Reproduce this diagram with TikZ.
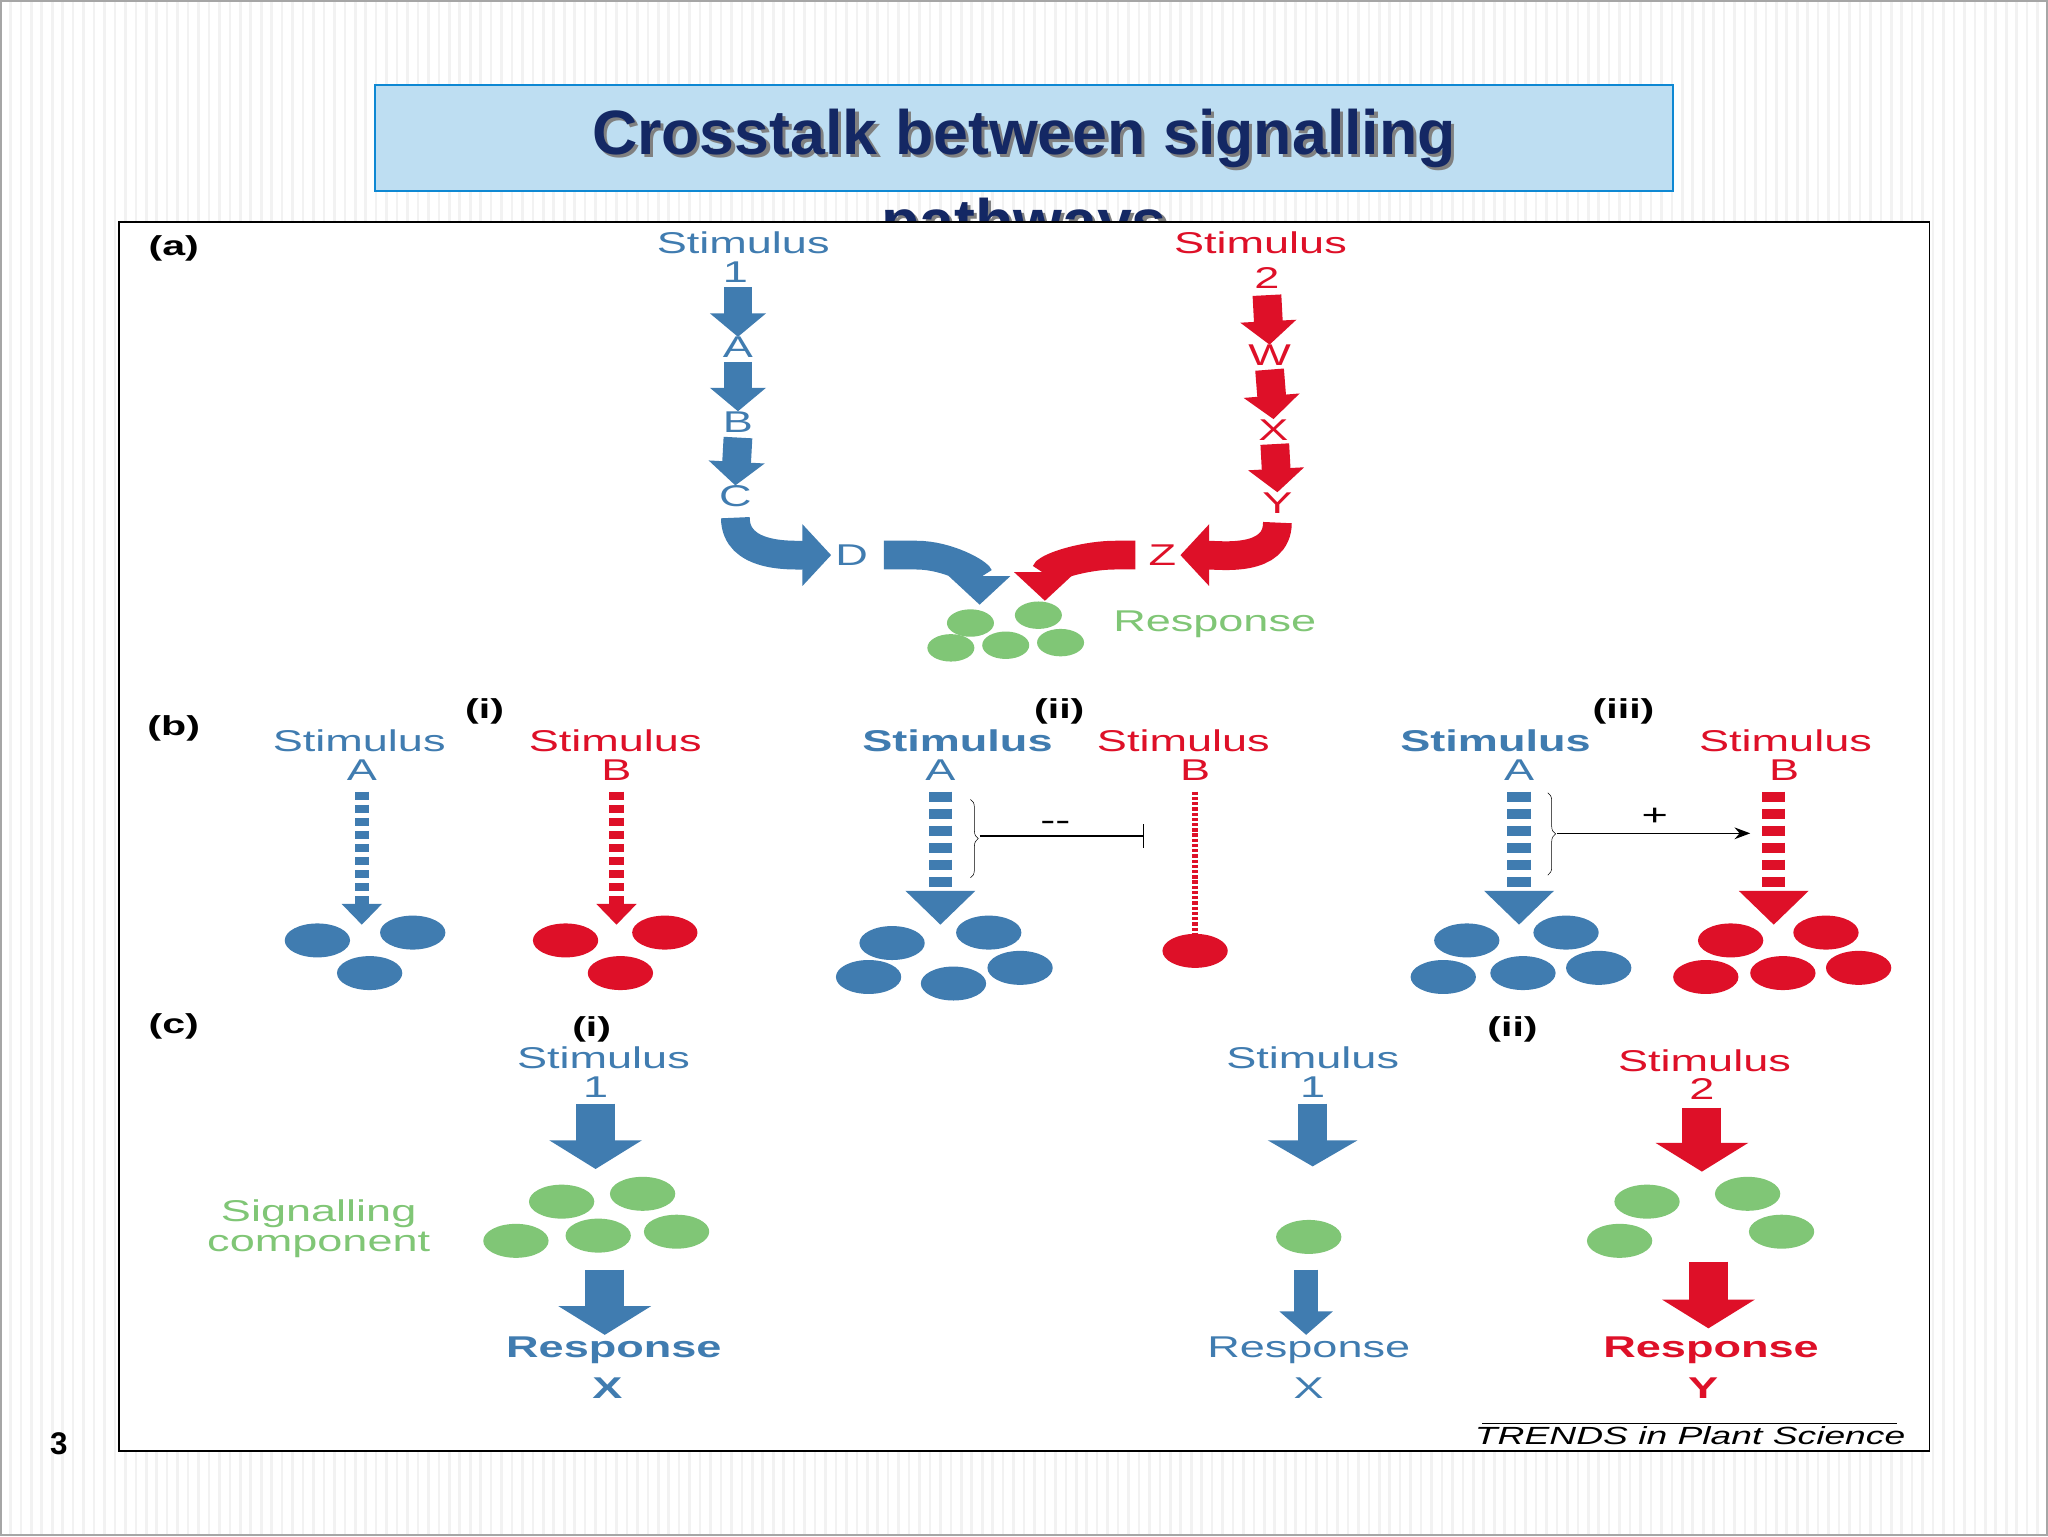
\documentclass[tikz,border=0pt]{standalone}
\usepackage{fontspec}
\setmainfont{Liberation Sans}
\newfontfamily\wide[FakeStretch=1.5]{Liberation Sans}
\usetikzlibrary{arrows.meta,decorations.pathreplacing,shapes.geometric}
\definecolor{cb}{RGB}{64,124,176}
\definecolor{cr}{RGB}{222,16,40}
\definecolor{cg}{RGB}{128,198,118}
\definecolor{navy}{RGB}{20,40,100}
\tikzset{
 lbl/.style={font=\wide\fontsize{23}{23}\selectfont,inner sep=0pt},
 lblb/.style={font=\wide\bfseries\fontsize{23}{23}\selectfont,inner sep=0pt},
 bl/.style={lbl,text=cb}, rl/.style={lbl,text=cr}, gl/.style={lbl,text=cg},
 fat/.style={line width=22pt,-{Triangle[width=42pt,length=18pt]}},
 fatc/.style={line width=22pt,-{Triangle[width=46pt,length=22pt]}},
 dsh/.style={line width=11pt,dash pattern=on 6pt off 4pt,-{Triangle[width=30pt,length=16pt]}},
 blob/.style={ellipse,minimum width=50pt,minimum height=26pt,inner sep=0pt},
 plab/.style={font=\wide\bfseries\fontsize{21}{21}\selectfont,inner sep=0pt},
}
\begin{document}
\begin{tikzpicture}[x=1pt,y=-1pt]
\useasboundingbox (0,0) rectangle (1568,1176);
\fill[white] (0,0) rectangle (1568,1176);
\foreach \i in {0,8,...,1560} \draw[gray!10,line width=2pt] (\i,0) -- (\i,1176);
\draw[gray!70,line width=1.5pt] (1,1) rectangle (1567,1175);
% title
\node[draw=cyan!70!blue,fill={rgb,255:red,190;green,222;blue,242},line width=1.5pt,minimum width=994pt,minimum height=81pt,inner sep=0pt] (tbox) at (784,105.5) {};
\node[font=\bfseries\fontsize{48}{68}\selectfont,text=gray,align=center] at (786.5,142.5) {Crosstalk between signalling\\pathways};
\node[font=\bfseries\fontsize{48}{68}\selectfont,text=navy,align=center] (title) at (784,140) {Crosstalk between signalling\\pathways};
\draw[black,fill=white,line width=1pt] (91,170) rectangle (1477,1111);
\node[font=\bfseries\fontsize{24}{24}\selectfont] (pg) at (45,1105) {3};
% (a)
\node[plab] (la) at (133,190) {(a)};
\node[bl] (s1) at (569,186) {Stimulus}; \node[bl] (s1n) at (563,208) {1};
\node[bl] (A) at (565,266) {A}; \node[bl] (B) at (565,323) {B}; \node[bl] (C) at (563,380) {C};
\draw[fat,cb] (565,220) -- (A.north);
\draw[fat,cb] (565,277) -- (B.north);
\draw[fat,cb] (565,335) -- (C.north);
\node[bl] (D) at (652,425) {D};
\draw[fatc,cb] (C.south) ++(0,8) to[out=-90,in=180] ([xshift=-3pt]D.west);
\draw[fatc,cb] (D.east) ++(12,0) -- ++(25,0) to[out=0,in=90] (750,463);
\node[rl] (s2) at (965,186) {Stimulus}; \node[rl] (s2n) at (970,213) {2};
\node[rl] (W) at (972,272) {W}; \node[rl] (X) at (975,329) {X}; \node[rl] (Y) at (978,385) {Y};
\draw[fat,cr] (970,226) -- (W.north);
\draw[fat,cr] (972,283) -- (X.north);
\draw[fat,cr] (976,340) -- (Y.north);
\node[rl] (Z) at (890,425) {Z};
\draw[fatc,cr] (Y.south) ++(0,7) to[out=-90,in=0] ([xshift=3pt]Z.east);
\draw[fatc,cr] (Z.west) ++(-10,0) -- ++(-15,0) to[out=180,in=90] (800,460);
\foreach \n/\x/\y in {g1/743/477,g2/795/471,g3/728/496,g4/770/494,g5/812/492}
  \node[blob,fill=cg,minimum width=36pt,minimum height=21pt] (\n) at (\x,\y) {};
\node[gl] (resp) at (930,478) {Response};
% (b)
\node[plab] (lb) at (133,558) {(b)};
\node[plab] (bi) at (371,545) {(i)};
\node[plab] (bii) at (811,545) {(ii)};
\node[plab] (biii) at (1243,545) {(iii)};
% (i)
\node[bl] (bsa) at (275,567) {Stimulus}; \node[bl] (ba) at (277,590) {A};
\draw[dsh,cb] (ba.south) ++(0,8) -- (277,708);
\foreach \n/\x/\y in {b1/243/720,b2/316/714,b3/283/745} \node[blob,fill=cb] (\n) at (\x,\y) {};
\node[rl] (bsb) at (471,567) {Stimulus}; \node[rl] (bb) at (472,590) {B};
\draw[dsh,cr] (bb.south) ++(0,8) -- (472,708);
\foreach \n/\x/\y in {r1/433/720,r2/509/714,r3/475/745} \node[blob,fill=cr] (\n) at (\x,\y) {};
% (ii)
\node[lblb,text=cb] (csa) at (733,567) {Stimulus}; \node[bl] (ca) at (720,590) {A};
\draw[cb,line width=18pt,dash pattern=on 8pt off 5pt,-{Triangle[width=52pt,length=26pt]}] (ca.south) ++(0,8) -- (720,708);
\draw[decorate,decoration={brace,amplitude=6pt}] (743,612) -- (743,672);
\draw[line width=1pt,-{Bar[width=18pt]}] (750,640) -- (876,640);
\node[lbl] (minus) at (808,632) {--};
\node[rl] (csb) at (906,567) {Stimulus}; \node[rl] (cbB) at (915,590) {B};
\draw[cr,line width=5pt,dash pattern=on 2.5pt off 1.5pt,-{Triangle[width=16pt,length=10pt]}] (cbB.south) ++(0,8) -- (915,736);
\node[blob,fill=cr] (rr) at (915,728) {};
\foreach \n/\x/\y in {c1/683/722,c2/757/714,c3/665/748,c4/730/753,c5/781/741} \node[blob,fill=cb] (\n) at (\x,\y) {};
% (iii)
\node[lblb,text=cb] (dsa) at (1145,567) {Stimulus}; \node[bl] (da) at (1163,590) {A};
\draw[cb,line width=18pt,dash pattern=on 8pt off 5pt,-{Triangle[width=52pt,length=26pt]}] (da.south) ++(0,8) -- (1163,708);
\draw[decorate,decoration={brace,amplitude=6pt}] (1185,607) -- (1185,670);
\draw[line width=1pt,-{Stealth[length=12pt,width=9pt]}] (1192,638) -- (1340,638);
\node[lbl] (plus) at (1267,625) {+};
\node[rl] (dsb) at (1367,567) {Stimulus}; \node[rl] (dbB) at (1366,590) {B};
\draw[cr,line width=18pt,dash pattern=on 8pt off 5pt,-{Triangle[width=52pt,length=26pt]}] (dbB.south) ++(-8,8) -- (1358,708);
\foreach \n/\x/\y in {d1/1123/720,d2/1199/714,d3/1105/748,d4/1166/745,d5/1224/741} \node[blob,fill=cb] (\n) at (\x,\y) {};
\foreach \n/\x/\y in {e1/1325/720,e2/1398/714,e3/1306/748,e4/1365/745,e5/1423/741} \node[blob,fill=cr] (\n) at (\x,\y) {};
% (c)
\node[plab] (lc) at (133,786) {(c)};
\node[plab] (ci) at (453,788) {(i)};
\node[plab] (cii) at (1158,788) {(ii)};
\node[bl] (fs1) at (462,810) {Stimulus}; \node[bl] (fs1n) at (456,832) {1};
\draw[cb,line width=30pt,-{Triangle[width=70pt,length=22pt]}] (456,845) -- (456,895);
\foreach \n/\x/\y in {f1/430/920,f2/492/914,f3/395/950,f4/458/946,f5/518/943} \node[blob,fill=cg] (\n) at (\x,\y) {};
\node[gl,align=center] (sig) at (244,941) {Signalling\\component};
\draw[cb,line width=30pt,-{Triangle[width=70pt,length=22pt]}] (463,972) -- (463,1022);
\node[lblb,text=cb] (fr) at (470,1034) {Response};
\node[lblb,text=cb] (fx) at (465,1063) {X};
\node[bl] (hs1) at (1005,810) {Stimulus}; \node[bl] (hs1n) at (1005,832) {1};
\draw[cb,line width=22pt,-{Triangle[width=68pt,length=20pt]}] (1005,845) -- (1005,893);
\node[blob,fill=cg] (hg) at (1002,947) {};
\draw[cb,line width=18pt,-{Triangle[width=40pt,length=18pt]}] (1000,972) -- (1000,1022);
\node[bl] (hr) at (1002,1034) {Response}; \node[bl] (hx) at (1002,1063) {X};
\node[rl] (ks) at (1305,812) {Stimulus}; \node[rl] (ksn) at (1303,834) {2};
\draw[cr,line width=30pt,-{Triangle[width=70pt,length=22pt]}] (1303,848) -- (1303,897);
\foreach \n/\x/\y in {k1/1261/920,k2/1338/914,k3/1240/950,k4/1364/943} \node[blob,fill=cg] (\n) at (\x,\y) {};
\draw[cr,line width=30pt,-{Triangle[width=70pt,length=22pt]}] (1308,966) -- (1308,1017);
\node[lblb,text=cr] (kr) at (1310,1034) {Response};
\node[lblb,text=cr] (ky) at (1304,1063) {Y};
\draw[line width=0.8pt] (1135,1090) -- (1452,1090);
\node[font=\wide\itshape\fontsize{19}{19}\selectfont,inner sep=0pt] (trends) at (1294,1099) {TRENDS in Plant Science};
\end{tikzpicture}
\end{document}
